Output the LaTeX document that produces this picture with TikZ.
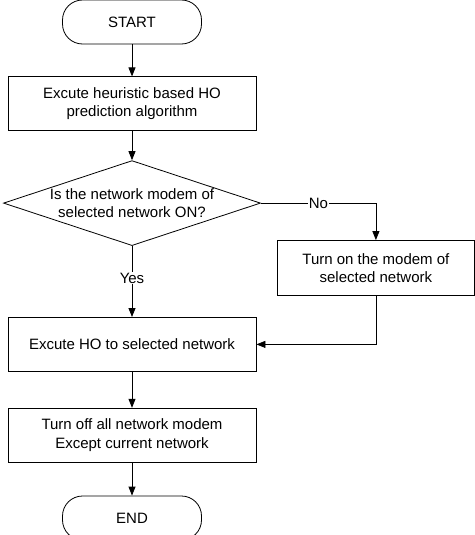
\documentclass[tikz,border=0pt]{standalone}
\usepackage{fontspec}
\setmainfont{Liberation Sans}
\usetikzlibrary{positioning, arrows.meta, shapes.geometric}

\begin{document}
\begin{tikzpicture}[x=1pt, y=1pt, font=\fontsize{15}{18.5}\selectfont, node distance=30pt, line width=0.8pt,
    terminal/.style={draw, rounded corners=20pt, minimum width=139pt, minimum height=44pt},
    process/.style={draw, align=center, minimum width=248pt, minimum height=54pt},
    decision/.style={draw, diamond, minimum width=257pt, minimum height=85pt, inner sep=0pt},
    flow/.style={-{Triangle[length=9pt, width=7pt]}}]
    \useasboundingbox (0,0) rectangle (474,-535);
    \node[terminal] (start) at (132,-22) {START};
    \node[process, below=32pt of start] (predict) {Excute heuristic based HO\\prediction algorithm};
    \node[decision, below=29pt of predict] (modemon) {};
    \node[align=center] (modemtxt) at (modemon) {Is the network modem of\\selected network ON?};
    \coordinate[right=115pt of modemon.east] (noturn);
    \node[process, minimum width=197pt, minimum height=55pt, below=37pt of noturn] (turnon) {Turn on the modem of\\selected network};
    \node[process, below=71pt of modemon] (handover) {Excute HO to selected network};
    \node[process, below=36pt of handover] (turnoff) {Turn off all network modem\\Except current network};
    \node[terminal, below=33pt of turnoff] (end) {END};
    \draw[flow] (start) -- (predict);
    \draw[flow] (predict) -- (modemon);
    \draw[flow] (modemon.east) -| node[pos=0.25, fill=white, inner sep=1pt]{No} (turnon.north);
    \draw[flow] (modemon.south) -- node[pos=0.45, fill=white, inner sep=1pt]{Yes} (handover.north);
    \draw[flow] (turnon.south) |- (handover.east);
    \draw[flow] (handover) -- (turnoff);
    \draw[flow] (turnoff) -- (end);
\end{tikzpicture}
\end{document}
